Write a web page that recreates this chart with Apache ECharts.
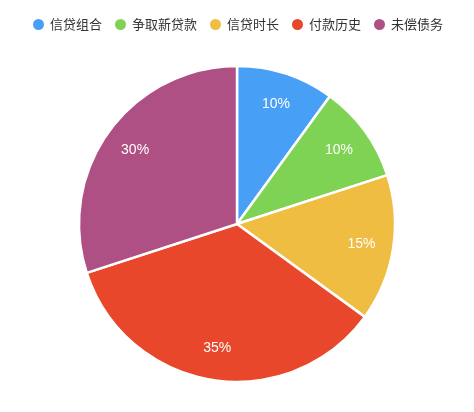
<!DOCTYPE html>
<html>
<head>
<meta charset="utf-8">
<script src="https://cdn.jsdelivr.net/npm/echarts@6/dist/echarts.min.js"></script>
<style>html,body{margin:0;padding:0;background:#fff;}#c{width:474px;height:412px;}</style>
</head>
<body>
<div id="c"></div>
<script>
var categories = ['信贷组合', '争取新贷款', '信贷时长', '付款历史', '未偿债务'];
var values = [10, 10, 15, 35, 30];
var colors = ['#489ff6', '#7ed354', '#f0bd43', '#e8472b', '#ae5083'];

var data = categories.map(function (c, i) { return { name: c, value: values[i] }; });
var chart = echarts.init(document.getElementById('c'));
chart.setOption({
  animation: false,
  color: colors,
  textStyle: { fontFamily: '"Noto Sans CJK SC", "Noto Sans", sans-serif' },
  legend: {
    top: 12,
    left: 'center',
    icon: 'circle',
    itemWidth: 13,
    itemHeight: 13,
    itemGap: 11,
    textStyle: { fontSize: 13, color: '#333' },
    data: categories
  },
  series: [
    {
      type: 'pie',
      center: [237, 224],
      radius: [0, 158],
      startAngle: 90,
      label: { show: false },
      labelLine: { show: false },
      itemStyle: { borderColor: '#fff', borderWidth: 2.5 },
      emphasis: { disabled: true },
      data: data
    },
    {
      type: 'pie',
      center: [237, 224],
      radius: [88, 158],
      startAngle: 90,
      silent: true,
      legendHoverLink: false,
      itemStyle: { color: 'rgba(0,0,0,0)', borderWidth: 0 },
      label: {
        show: true,
        position: 'inside',
        formatter: '{c}%',
        color: '#fff',
        fontSize: 14,
        fontFamily: '"Liberation Sans", "Noto Sans", sans-serif'
      },
      labelLine: { show: false },
      emphasis: { disabled: true },
      data: data
    }
  ]
});
</script>
</body>
</html>
